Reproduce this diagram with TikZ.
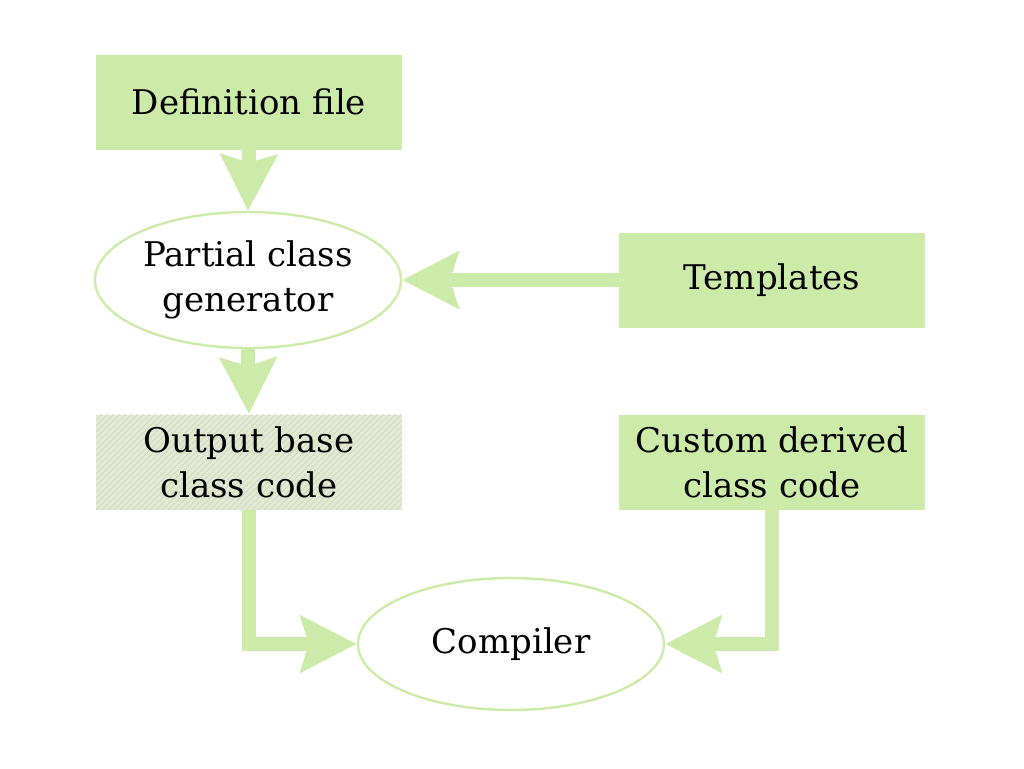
\documentclass[tikz,border=0pt]{standalone}
\usepackage{fontspec}
\setmainfont{DejaVu Serif}
\definecolor{leafGreen}{RGB}{205, 235, 168}
\definecolor{paleGreen}{RGB}{228, 233, 212}
\definecolor{hatchGreen}{RGB}{210, 216, 192}
\usetikzlibrary{arrows.meta,patterns,shapes.geometric}

\begin{document}
\begin{tikzpicture}[x=0.5pt,y=-0.5pt,
    box/.style={fill=leafGreen,minimum width=153pt,minimum height=47.5pt,align=center,font=\fontsize{17}{22.5}\selectfont},
    oval/.style={ellipse,draw=leafGreen,line width=1.2pt,inner sep=0pt,minimum width=153pt,minimum height=68pt,align=center,font=\fontsize{17}{22.5}\selectfont},
    flow/.style={draw=leafGreen,line width=7pt,-{Stealth[length=28pt,width=28pt,inset=4pt]}}]
  \useasboundingbox (0,0) rectangle (1024,768);
  % Boxes
  \node[box] (defn) at (249,102) {Definition file};
  \node[box] (tmpl) at (772,280) {Templates};
  \node[box,fill=paleGreen,postaction={pattern=north east lines,pattern color=hatchGreen}] (outp) at (249,462) {Output base\\class code};
  \node[box] (cust) at (772,462) {Custom derived\\class code};
  % Ellipses
  \node[oval] (gen) at (248,280) {Partial class\\generator};
  \node[oval,minimum height=66pt] (comp) at (511,644) {Compiler};
  % Arrows
  \draw[flow] (defn.south) -- (gen.north);
  \draw[flow] (tmpl.west) -- (gen.east);
  \draw[flow] (gen.south) -- (outp.north);
  \draw[flow] (outp.south) |- (comp.west);
  \draw[flow] (cust.south) |- (comp.east);
\end{tikzpicture}
\end{document}
